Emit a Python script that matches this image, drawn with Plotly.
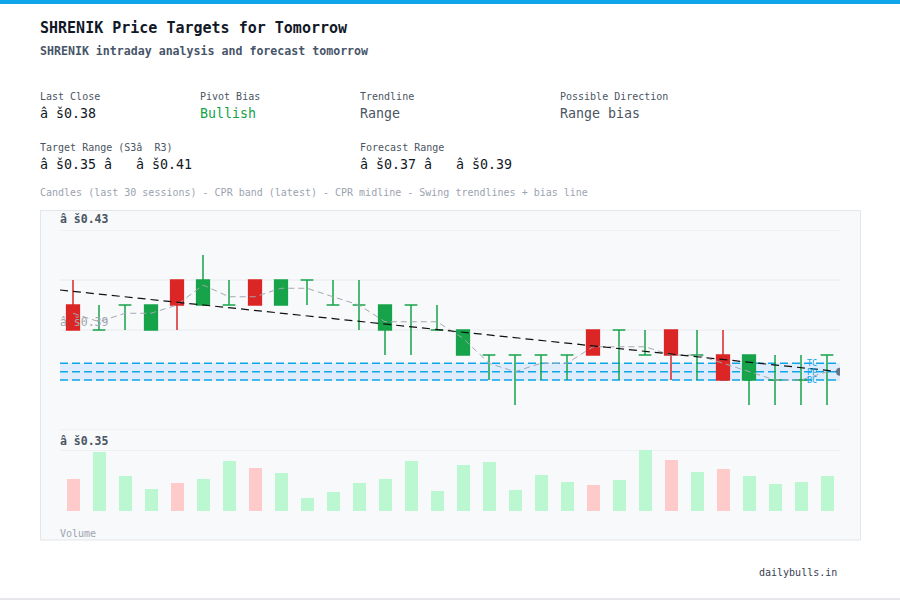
import plotly.graph_objects as go

# ---------------- data ----------------
sessions = list(range(30))
opens  = [0.40,0.39,0.40,0.39,0.41,0.40,0.40,0.41,0.40,0.41,0.40,0.40,0.39,0.40,0.39,
          0.38,0.38,0.38,0.38,0.38,0.39,0.39,0.38,0.39,0.38,0.38,0.37,0.37,0.37,0.38]
highs  = [0.41,0.40,0.40,0.40,0.41,0.42,0.41,0.41,0.41,0.41,0.41,0.41,0.40,0.40,0.40,
          0.39,0.38,0.38,0.38,0.38,0.39,0.39,0.39,0.39,0.39,0.39,0.38,0.38,0.38,0.38]
lows   = [0.39,0.39,0.39,0.39,0.39,0.40,0.40,0.40,0.40,0.40,0.40,0.39,0.38,0.38,0.39,
          0.38,0.37,0.36,0.37,0.37,0.38,0.37,0.38,0.37,0.37,0.37,0.36,0.36,0.36,0.36]
closes = [0.39,0.39,0.40,0.40,0.40,0.41,0.40,0.40,0.41,0.41,0.40,0.40,0.40,0.40,0.39,
          0.39,0.38,0.38,0.38,0.38,0.38,0.39,0.38,0.38,0.38,0.37,0.38,0.37,0.37,0.38]
volumes = [32000,59000,35000,22000,28000,32000,50000,43000,38000,13000,19000,28000,32000,50000,20000,
           46000,49000,21000,36000,29000,26000,31000,61000,51000,39000,42000,35000,27000,29000,35000]
pivot_line = [0.3967,0.3933,0.3967,0.3967,0.4000,0.4080,0.4033,0.4033,0.4067,0.4067,0.4033,0.4000,0.3933,0.3933,0.3933,
              0.3867,0.3767,0.3733,0.3767,0.3767,0.3833,0.3833,0.3833,0.3800,0.3800,0.3767,0.3733,0.3700,0.3700,0.3733]
cpr_tc, cpr_pp, cpr_bc = 0.3767, 0.3733, 0.3700
bias_x = [-0.5, 29.5]
bias_y = [0.4060, 0.3733]
price_min, price_mid, price_max = 0.35, 0.39, 0.43
price_grid = [0.35, 0.37, 0.39, 0.41, 0.43]
cur = "â\u00a0š"

GREEN = "#16a34a"
RED = "#dc2626"
VGREEN = "#bbf7d0"
VRED = "#fecaca"
CPRC = "#0ea5e9"
FONT = "DejaVu Sans Mono"

W, H = 900, 600
def px(x): return x / W
def py(y): return 1 - y / H

fig = go.Figure()

up = [i for i in sessions if closes[i] >= opens[i]]
dn = [i for i in sessions if closes[i] < opens[i]]
for idx, col in ((up, GREEN), (dn, RED)):
    fig.add_trace(go.Candlestick(
        x=[sessions[i] for i in idx],
        open=[opens[i] for i in idx], high=[highs[i] for i in idx],
        low=[lows[i] for i in idx], close=[closes[i] for i in idx],
        increasing=dict(line=dict(color=col, width=1.5), fillcolor=col),
        decreasing=dict(line=dict(color=col, width=1.5), fillcolor=col),
        whiskerwidth=0, showlegend=False, hoverinfo="skip"))

# per-session pivot (typical price) line
fig.add_trace(go.Scatter(x=sessions, y=pivot_line, mode="lines",
                         line=dict(color="#a3a8b0", width=1, dash="6px,4px"),
                         showlegend=False, hoverinfo="skip"))
# bias line
fig.add_trace(go.Scatter(x=bias_x, y=bias_y, mode="lines",
                         line=dict(color="#111111", width=1.2, dash="8px,5px"),
                         showlegend=False, hoverinfo="skip"))
fig.add_trace(go.Scatter(x=[bias_x[1]], y=[bias_y[1]], mode="markers",
                         marker=dict(color="#64748b", size=8),
                         showlegend=False, hoverinfo="skip"))

# volume
vcols = [VGREEN if closes[i] >= opens[i] else VRED for i in sessions]
fig.add_trace(go.Bar(x=sessions, y=volumes, yaxis="y2", marker=dict(color=vcols, line=dict(width=0)),
                     width=0.5, showlegend=False, hoverinfo="skip"))

shapes = [
    dict(type="rect", xref="paper", yref="paper", x0=0, x1=1, y0=py(4), y1=1,
         fillcolor="#0ea5e9", line=dict(width=0), layer="below"),
    dict(type="rect", xref="paper", yref="paper", x0=0, x1=1, y0=0, y1=py(598),
         fillcolor="#e5e7eb", line=dict(width=0), layer="below"),
    dict(type="rect", xref="paper", yref="paper", x0=px(40.5), x1=px(860.5), y0=py(540), y1=py(210.5),
         fillcolor="#f8f9fb", line=dict(color="#e3e6ea", width=1), layer="below"),
]
for g in price_grid:
    shapes.append(dict(type="line", xref="x", yref="y", x0=bias_x[0], x1=bias_x[1], y0=g, y1=g,
                       line=dict(color="#e8eaee", width=1), layer="below"))
shapes.append(dict(type="line", xref="x", yref="y2", x0=bias_x[0], x1=bias_x[1],
                   y0=max(volumes), y1=max(volumes), line=dict(color="#e3e6ea", width=1), layer="below"))
shapes.append(dict(type="rect", xref="x", yref="y", x0=bias_x[0], x1=bias_x[1], y0=cpr_bc, y1=cpr_tc,
                   fillcolor="rgba(191,219,254,0.45)", line=dict(width=0), layer="below"))
for lv in (cpr_tc, cpr_pp, cpr_bc):
    shapes.append(dict(type="line", xref="x", yref="y", x0=bias_x[0], x1=bias_x[1], y0=lv, y1=lv,
                       line=dict(color=CPRC, width=1.3, dash="8px,4px"), layer="below"))

def ann(text, x, y, size, color, bold=False, xanchor="left", yanchor="middle", xref="paper", yref="paper"):
    if bold:
        text = "<b>" + text + "</b>"
    return dict(text=text, x=x, y=y, xref=xref, yref=yref, xanchor=xanchor, yanchor=yanchor,
                showarrow=False, font=dict(family=FONT, size=size, color=color), borderpad=0)

annotations = [
    ann("SHRENIK Price Targets for Tomorrow", px(39), py(28), 15, "#111827", bold=True),
    ann("SHRENIK intraday analysis and forecast tomorrow", px(39), py(51), 11.6, "#475569", bold=True),
    ann("Last Close", px(39), py(97), 10, "#4b5563"),
    ann(cur + "0.38", px(39), py(114), 13.3, "#111827"),
    ann("Pivot Bias", px(199), py(97), 10, "#4b5563"),
    ann("Bullish", px(199), py(114), 13.3, "#16a34a"),
    ann("Trendline", px(359), py(97), 10, "#4b5563"),
    ann("Range", px(359), py(114), 13.3, "#4b5563"),
    ann("Possible Direction", px(559), py(97), 10, "#4b5563"),
    ann("Range bias", px(559), py(114), 13.3, "#4b5563"),
    ann("Target Range (S3â\u00a0\u00a0R3)", px(39), py(147), 10, "#4b5563"),
    ann(cur + "0.35 â\u00a0\u00a0\u00a0" + cur + "0.41", px(39), py(164), 13.3, "#111827"),
    ann("Forecast Range", px(359), py(147), 10, "#4b5563"),
    ann(cur + "0.37 â\u00a0\u00a0\u00a0" + cur + "0.39", px(359), py(164), 13.3, "#111827"),
    ann("Candles (last 30 sessions) - CPR band (latest) - CPR midline - Swing trendlines + bias line",
        px(39), py(192), 10, "#9ca3af"),
    ann(cur + "%.2f" % price_max, px(59), py(219), 11.5, "#4b5563", bold=True),
    ann(cur + "%.2f" % price_min, px(59), py(441), 11.5, "#4b5563", bold=True),
    ann(cur + "%.2f" % price_mid, px(59), py(322), 11.5, "#a0a6ae"),
    ann("Volume", px(59), py(533), 10, "#9ca3af"),
    ann("dailybulls.in", px(838), py(572), 10, "#374151", xanchor="right"),
]
for lbl, lv in (("TC", cpr_tc), ("PP", cpr_pp), ("BC", cpr_bc)):
    annotations.append(ann(lbl, 28.2, lv, 8.5, CPRC, xref="x", yref="y"))

fig.update_layout(
    width=W, height=H, margin=dict(l=0, r=0, t=0, b=0),
    paper_bgcolor="white", plot_bgcolor="rgba(0,0,0,0)",
    showlegend=False, shapes=shapes, annotations=annotations,
    xaxis=dict(domain=[px(60), px(840)], range=[-0.5, 29.5], showgrid=False, zeroline=False,
               showticklabels=False, ticks="", showline=False, rangeslider=dict(visible=False), fixedrange=True),
    yaxis=dict(domain=[py(430), py(230)], range=[price_min, price_max],
               showgrid=False, zeroline=False,
               showticklabels=False, ticks="", showline=False, fixedrange=True),
    yaxis2=dict(domain=[py(511), py(450)], range=[0, max(volumes)],
                showgrid=False, zeroline=False, showticklabels=False,
                ticks="", showline=False, fixedrange=True),
    bargap=0,
)

fig.write_html("out.html")
